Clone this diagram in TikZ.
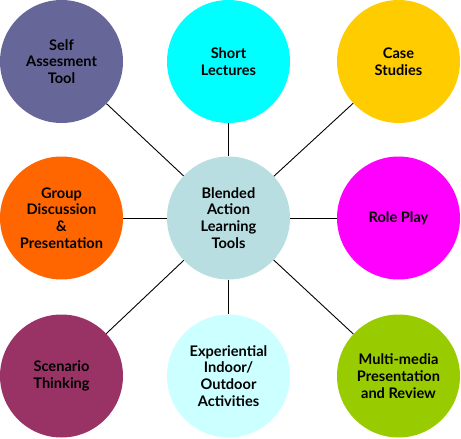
\documentclass[tikz,border=0pt]{standalone}
\usepackage{fontspec}
\setmainfont{Lato}
\definecolor{cself}{HTML}{666699}
\definecolor{cshort}{HTML}{00FFFF}
\definecolor{ccase}{HTML}{FFCC00}
\definecolor{cgroup}{HTML}{FF6600}
\definecolor{ccenter}{HTML}{B9DEE2}
\definecolor{crole}{HTML}{FF00FF}
\definecolor{cscen}{HTML}{993366}
\definecolor{cexp}{HTML}{CCFFFF}
\definecolor{cmulti}{HTML}{99CC00}
\begin{document}
\begin{tikzpicture}[x=1pt,y=-1pt,
  bub/.style={circle,minimum size=123pt,inner sep=0pt,align=center,
    font=\fontsize{14.6}{16.8}\selectfont\bfseries,text=black},
  link/.style={draw=black,line width=0.9pt}]
\useasboundingbox (0,0) rectangle (461,439);
\node[bub,fill=cself]   (self)  at (61.5,61.5)  {Self\\Assesment\\Tool};
\node[bub,fill=cshort]  (short) at (228.5,61.5) {Short\\Lectures};
\node[bub,fill=ccase]   (case)  at (398.5,61.5) {Case\\Studies};
\node[bub,fill=cgroup]  (group) at (61.5,218)   {Group\\Discussion\\\&\\Presentation};
\node[bub,fill=ccenter] (cen)   at (228.5,218)  {Blended\\Action\\Learning\\Tools};
\node[bub,fill=crole]   (role)  at (398.5,218)  {Role Play};
\node[bub,fill=cscen]   (scen)  at (61.5,376)   {Scenario\\Thinking};
\node[bub,fill=cexp]    (exp)   at (228.5,376)  {Experiential\\Indoor/\\Outdoor\\Activities};
\node[bub,fill=cmulti]  (multi) at (398.5,376)  {Multi-media\\Presentation\\and Review};
\foreach \n in {self,short,case,group,role,scen,exp,multi}
  \draw[link] (cen) -- (\n);
\end{tikzpicture}
\end{document}
